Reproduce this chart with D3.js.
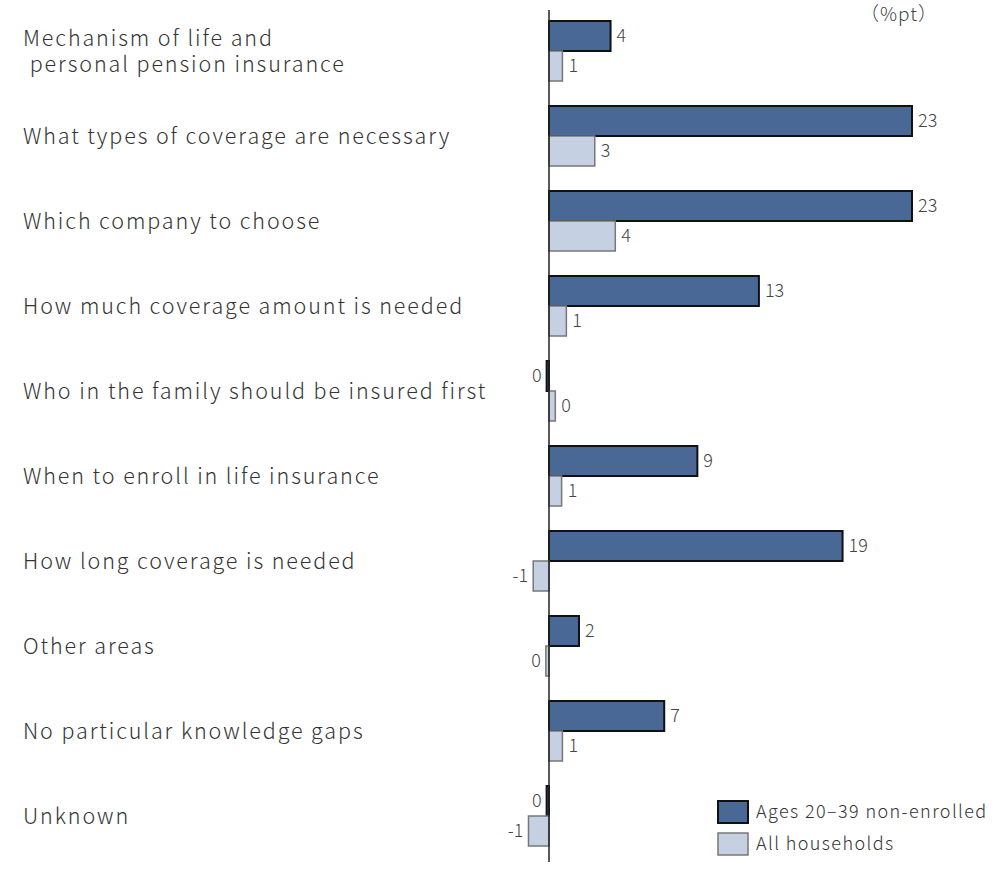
<!DOCTYPE html>
<html>
<head>
<meta charset="utf-8">
<script src="https://cdn.jsdelivr.net/npm/d3@7"></script>
<style>
body { margin: 0; background: #fff; }
text { font-family: "Noto Sans CJK JP", "Noto Sans", sans-serif; }
</style>
</head>
<body>
<div id="chart"></div>
<script>
// categories (each line of a label is an array entry)
var categories = [
  ["Mechanism of life and", " personal pension insurance"],
  ["What types of coverage are necessary"],
  ["Which company to choose"],
  ["How much coverage amount is needed"],
  ["Who in the family should be insured first"],
  ["When to enroll in life insurance"],
  ["How long coverage is needed"],
  ["Other areas"],
  ["No particular knowledge gaps"],
  ["Unknown"]
];
var youngValues = [3.9, 23.0, 23.0, 13.3, -0.15, 9.4, 18.6, 1.9, 7.3, -0.15];
var allValues   = [0.85, 2.9, 4.2, 1.1, 0.4, 0.8, -1.0, -0.2, 0.85, -1.3];
var seriesNames = ["Ages 20\u201339 non-enrolled", "All households"];
var unitLabel = "\uff08%pt\uff09";

var W = 1000, H = 872;
var svg = d3.select("#chart").append("svg")
  .attr("width", W)
  .attr("height", H);

var xScale = d3.scaleLinear()
  .domain([0, 23])
  .range([549, 912]);

var bh = 30;
var yScale = d3.scaleBand()
  .domain(d3.range(categories.length))
  .range([21, 21 + 85 * 9 + 2 * bh])
  .paddingInner(25 / 85)
  .paddingOuter(0)
  .align(0);

// category labels, one text per line
var lab = svg.append("g");
categories.forEach(function(lines, i){
  var cy = yScale(i) + bh;
  lines.forEach(function(s, j){
    lab.append("text")
      .attr("x", 23)
      .attr("y", cy + (j - (lines.length - 1) / 2) * 26)
      .attr("dy", "0.35em")
      .attr("font-size", 21.5)
      .attr("font-weight", 300)
      .attr("fill", "#333")
      .attr("letter-spacing", 1.9)
      .attr("xml:space", "preserve")
      .style("white-space", "pre")
      .text(s);
  });
});

function drawBars(vals, offset, fill, stroke, sw){
  var g = svg.append("g");
  g.selectAll("rect")
    .data(vals)
    .enter()
    .append("rect")
    .attr("x", function(d){ return xScale(Math.min(0, d)); })
    .attr("y", function(d, i){ return yScale(i) + offset; })
    .attr("width", function(d){ return Math.abs(xScale(d) - xScale(0)); })
    .attr("height", bh)
    .attr("fill", fill)
    .attr("stroke", stroke)
    .attr("stroke-width", sw);
  g.selectAll("text")
    .data(vals)
    .enter()
    .append("text")
    .attr("x", function(d){ return d < 0 ? xScale(d) - 5 : xScale(d) + 6; })
    .attr("y", function(d, i){ return yScale(i) + offset + bh / 2; })
    .attr("dy", "0.35em")
    .attr("text-anchor", function(d){ return d < 0 ? "end" : "start"; })
    .attr("font-size", 18)
    .attr("font-weight", 300)
    .attr("fill", "#444")
    .text(function(d){ return d3.format(".0f")(d).replace("\u2212", "-"); });
}

drawBars(youngValues, 0, "#4a6896", "#111", 2);
drawBars(allValues, bh, "#c5d0e3", "#777", 1.5);

// zero axis
svg.append("line")
  .attr("x1", xScale(0)).attr("x2", xScale(0))
  .attr("y1", 10).attr("y2", 862)
  .attr("stroke", "#222")
  .attr("stroke-width", 1.5);

// unit label
svg.append("text")
  .attr("x", 938)
  .attr("y", 21)
  .attr("text-anchor", "end")
  .attr("font-size", 19)
  .attr("font-weight", 300)
  .attr("letter-spacing", 1)
  .attr("fill", "#444")
  .text(unitLabel);

// legend
var legend = svg.append("g").attr("transform", "translate(718,801)");
var legFill = ["#4a6896", "#c5d0e3"], legStroke = ["#111", "#777"];
seriesNames.forEach(function(name, i){
  legend.append("rect")
    .attr("x", 0).attr("y", i * 32)
    .attr("width", 30).attr("height", 22)
    .attr("fill", legFill[i])
    .attr("stroke", legStroke[i])
    .attr("stroke-width", i == 0 ? 2 : 1.5);
  legend.append("text")
    .attr("x", 38).attr("y", i * 32 + 11)
    .attr("dy", "0.35em")
    .attr("font-size", 18)
    .attr("font-weight", 300)
    .attr("letter-spacing", 1.4)
    .attr("fill", "#333")
    .text(name);
});
</script>
</body>
</html>
